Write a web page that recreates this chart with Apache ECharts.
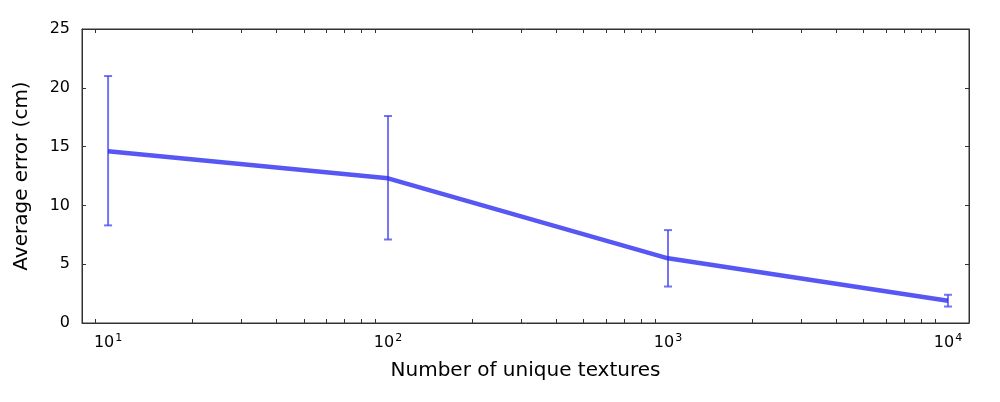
<!DOCTYPE html>
<html><head><meta charset="utf-8">
<script src="https://cdn.jsdelivr.net/npm/echarts@6/dist/echarts.min.js"></script>
<style>html,body{margin:0;padding:0;background:#fff}#c{width:1000px;height:402px}</style>
</head><body><div id="c"></div>
<script>
const textures = [10, 100, 1000, 10000];
const avgError = [14.6, 12.3, 5.5, 1.9];
const errLow = [8.3, 7.1, 3.1, 1.4];
const errHigh = [21.0, 17.6, 7.9, 2.4];
const xTickLabels = [10, 100, 1000, 10000];
const xMinorTicks = [9];
[10, 100, 1000].forEach(d => { for (let k = 2; k <= 9; k++) xMinorTicks.push(k * d); });

const chart = echarts.init(document.getElementById('c'));
const axisFont = { fontFamily: 'DejaVu Sans', color: '#000' };
function xAxisBase() {
  return {
    type: 'log', logBase: 10, min: 8.07, max: 11890, gridIndex: 0,
    axisLine: { show: true, onZero: false, lineStyle: { color: '#333', width: 1 } },
    splitLine: { show: false },
    axisTick: { show: true, inside: true, length: 4, customValues: xMinorTicks, lineStyle: { color: '#333' } }
  };
}
chart.setOption({
  animation: false,
  grid: { left: 82, right: 31, top: 29, bottom: 79, show: true, borderColor: '#333', borderWidth: 1, backgroundColor: 'transparent' },
  xAxis: [
    Object.assign(xAxisBase(), {
      position: 'bottom',
      name: 'Number of unique textures', nameLocation: 'middle', nameGap: 38,
      nameTextStyle: Object.assign({ fontSize: 20 }, axisFont),
      axisLabel: {
        customValues: xTickLabels, margin: 10,
        formatter: v => '{b|10}{s|' + Math.round(Math.log10(v)) + '}',
        rich: { b: Object.assign({ fontSize: 16 }, axisFont), s: Object.assign({ fontSize: 11, verticalAlign: 'top', padding: [0, 0, 8, 1] }, axisFont) }
      }
    }),
    Object.assign(xAxisBase(), { position: 'top', axisLabel: { show: false } })
  ],
  yAxis: [
    {
      type: 'value', min: 0, max: 25, interval: 5, position: 'left',
      name: 'Average error (cm)', nameLocation: 'middle', nameGap: 50,
      nameTextStyle: Object.assign({ fontSize: 20 }, axisFont),
      axisLine: { show: true, onZero: false, lineStyle: { color: '#333' } },
      axisTick: { inside: true, length: 4, lineStyle: { color: '#333' } },
      splitLine: { show: false },
      axisLabel: Object.assign({ fontSize: 16, margin: 12 }, axisFont)
    },
    {
      type: 'value', min: 0, max: 25, interval: 5, position: 'right',
      axisLine: { show: true, lineStyle: { color: '#333' } },
      axisTick: { inside: true, length: 4, lineStyle: { color: '#333' } },
      splitLine: { show: false }, axisLabel: { show: false }
    }
  ],
  series: [
    {
      type: 'custom',
      data: textures.map((t, i) => [t, errLow[i], errHigh[i]]),
      renderItem: (params, api) => {
        const lo = api.coord([api.value(0), api.value(1)]);
        const hi = api.coord([api.value(0), api.value(2)]);
        const w = 4;
        const style = { stroke: 'rgba(70,70,240,0.75)', lineWidth: 2 };
        return { type: 'group', children: [
          { type: 'line', shape: { x1: lo[0], y1: lo[1], x2: hi[0], y2: hi[1] }, style },
          { type: 'line', shape: { x1: lo[0] - w, y1: lo[1], x2: lo[0] + w, y2: lo[1] }, style },
          { type: 'line', shape: { x1: hi[0] - w, y1: hi[1], x2: hi[0] + w, y2: hi[1] }, style }
        ]};
      },
      z: 3
    },
    {
      type: 'line',
      data: textures.map((t, i) => [t, avgError[i]]),
      showSymbol: false,
      lineStyle: { color: 'rgba(40,40,240,0.78)', width: 4.5 },
      z: 4
    }
  ]
});
</script></body></html>
